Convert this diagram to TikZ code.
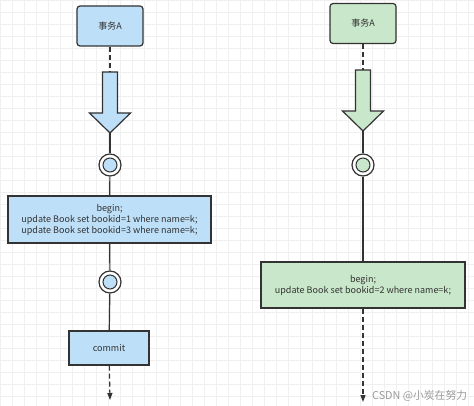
\documentclass[tikz,border=0pt]{standalone}
\usepackage{fontspec}
\setmainfont{Noto Sans CJK SC}
\usetikzlibrary{arrows.meta,positioning}
\definecolor{blueFill}{HTML}{BEDFF8}
\definecolor{greenFill}{HTML}{C9E7CA}
\definecolor{lineCol}{HTML}{333333}
\definecolor{gridCol}{HTML}{F0F0F0}
\tikzset{
  box/.style   = {draw=lineCol, line width=1.2pt, align=center, inner sep=0pt,
                  font=\fontsize{9}{11}\selectfont, text=black!80},
  tx/.style    = {box, rounded corners=3pt, minimum width=66pt, minimum height=40pt},
  ring/.style  = {circle, draw=lineCol, line width=1.2pt, fill=white,
                  minimum size=22pt, inner sep=0pt},
  dot/.style   = {circle, draw=lineCol, line width=1pt, minimum size=14pt, inner sep=0pt},
  wire/.style  = {draw=lineCol, line width=1.2pt},
  dashwire/.style = {wire, dash pattern=on 5pt off 3pt},
  ar/.style    = {dashwire, -{Triangle[length=7pt, width=5pt]}},
  pics/downarr/.style = {code={
    \draw[draw=lineCol, line width=1.2pt, fill=#1, line join=miter]
      (-7.5,0) -- (-7.5,41) -- (-20.5,41) -- (0,61) -- (20.5,41)
      -- (7.5,41) -- (7.5,0) -- cycle;
    \coordinate (-top) at (0,0);
    \coordinate (-tip) at (0,61);
  }}
}
\begin{document}
\begin{tikzpicture}[x=1pt, y=-1pt]
  \useasboundingbox (0,0) rectangle (474,406);
  \fill[white] (0,0) rectangle (474,406);
  \draw[gridCol, line width=0.5pt, step=12pt] (0,0) grid (474,406);

  % transaction on the left
  \node[tx, fill=blueFill] (txL) at (110,26) {事务A};
  \pic (arrL) at (110,72) {downarr=blueFill};
  \node[ring] (ringL1) at (110,165) {};
  \node[dot, fill=blueFill] at (ringL1) {};
  \node[box, fill=blueFill, minimum width=203pt, minimum height=47pt] (updL) at (109.5,219.5)
    {begin;\\update Book set bookid=1 where name=k;\\update Book set bookid=3 where name=k;};
  \node[ring] (ringL2) at (110,282) {};
  \node[dot, fill=blueFill] at (ringL2) {};
  \node[box, fill=blueFill, minimum width=80pt, minimum height=34pt] (commitL) at (109,348) {commit};
  \coordinate (endL) at (110,400);

  \draw[dashwire] (txL) -- (arrL-top);
  \draw[wire] (arrL-tip) -- (ringL1);
  \draw[wire] (ringL1) -- (updL);
  \draw[wire] (updL) -- (ringL2);
  \draw[wire] (ringL2) -- (commitL);
  \draw[ar] (commitL) -- (endL);

  % transaction on the right
  \node[tx, fill=greenFill] (txR) at (363,23.5) {事务A};
  \pic (arrR) at (363,70) {downarr=greenFill};
  \node[ring] (ringR) at (363,165) {};
  \node[dot, fill=greenFill] at (ringR) {};
  \node[box, fill=greenFill, minimum width=204pt, minimum height=46pt] (updR) at (363,285)
    {begin;\\update Book set bookid=2 where name=k;};
  \coordinate (endR) at (363,402);

  \draw[dashwire] (txR) -- (arrR-top);
  \draw[wire] (arrR-tip) -- (ringR);
  \draw[wire] (ringR) -- (updR);
  \draw[ar] (updR) -- (endR);

  \node[anchor=west, text=black!40, font=\fontsize{10.8}{12}\selectfont, inner sep=0pt]
    (mark) at (372,396) {CSDN @小炭在努力};
\end{tikzpicture}
\end{document}
